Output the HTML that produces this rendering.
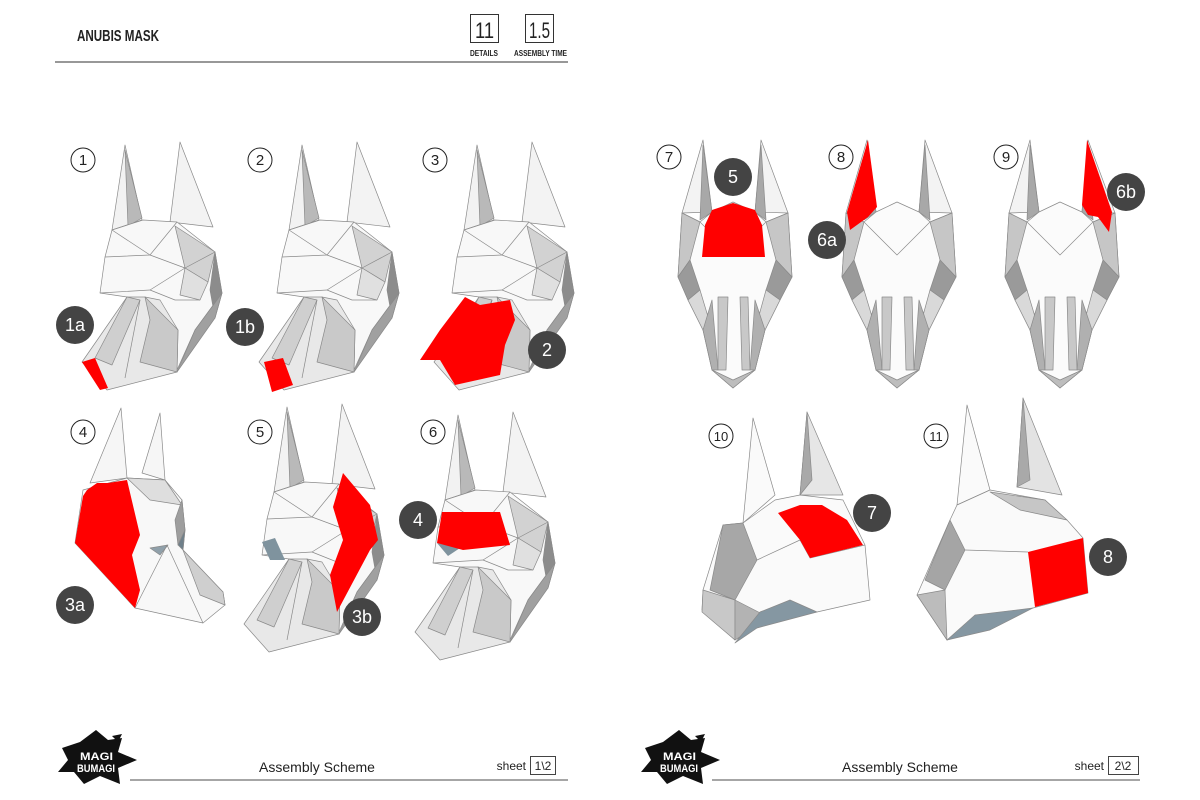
<!DOCTYPE html>
<html><head><meta charset="utf-8"><style>
html,body{margin:0;padding:0;background:#fff;width:1200px;height:800px;overflow:hidden}
svg{display:block}
.t{font-family:"Liberation Sans",sans-serif}
.n{font-family:"Liberation Sans Narrow","Liberation Sans",sans-serif}
</style></head><body>
<svg width="1200" height="800" viewBox="0 0 1200 800" xmlns="http://www.w3.org/2000/svg">
<defs>
<g id="side" stroke="#8a8a8a" stroke-width="0.7" stroke-linejoin="round">
  <polygon points="112,230 125,145 142,220" fill="#f2f2f2"/>
  <polygon points="125,150 142,218 128,226" fill="#b9b9b9"/>
  <polygon points="170,222 180,142 213,227" fill="#f3f3f3"/>
  <polygon points="100,293 105,257 112,230 143,220 177,222 215,252 222,293 217,300 195,330 177,370 140,360 127,297" fill="#f8f8f8"/>
  <polygon points="175,226 215,252 208,282 185,268" fill="#d2d2d2"/>
  <polygon points="215,252 222,293 215,318 210,290" fill="#8c8c8c"/>
  <polygon points="185,268 208,282 200,300 180,295" fill="#e0e0e0"/>
  <polyline points="105,257 150,255 177,222 M150,255 143,220" fill="none"/>
  <polyline points="112,230 150,255 185,268 215,252" fill="none"/>
  <polyline points="100,293 150,290 185,268 M150,255 150,290 120,258" fill="none"/>
  <polyline points="150,290 175,300 200,300" fill="none"/>
  <polygon points="127,297 145,297 160,300 178,330 177,372 107,390 82,362" fill="#e8e8e8"/>
  <polygon points="145,297 178,330 177,372 140,362 150,320" fill="#c9c9c9"/>
  <polygon points="127,297 140,300 112,365 95,358" fill="#cfcfcf"/>
  <polyline points="140,300 125,378 M150,320 140,362 107,390" fill="none"/>
  <polygon points="195,330 217,300 222,293 215,318 177,372" fill="#a0a0a0"/>
</g>
<g id="front" stroke="#8a8a8a" stroke-width="0.7" stroke-linejoin="round">
  <polygon points="682,213 703,140 712,212" fill="#f3f3f3"/>
  <polygon points="703,145 712,212 700,220" fill="#a8a8a8"/>
  <polygon points="788,213 761,140 755,212" fill="#f3f3f3"/>
  <polygon points="761,145 755,212 766,220" fill="#a8a8a8"/>
  <polygon points="682,213 700,222 712,212 733,202 755,212 766,222 788,213 792,277 780,300 765,330 755,370 733,388 712,370 703,330 688,300 678,277" fill="#fbfbfb"/>
  <polygon points="682,213 700,222 690,260 678,277" fill="#c6c6c6"/>
  <polygon points="788,213 766,222 776,260 792,277" fill="#c6c6c6"/>
  <polygon points="678,277 690,260 700,290 688,300" fill="#9a9a9a"/>
  <polygon points="792,277 776,260 766,290 780,300" fill="#9a9a9a"/>
  <polygon points="688,300 700,290 712,330 703,330" fill="#d9d9d9"/>
  <polygon points="780,300 766,290 755,330 765,330" fill="#d9d9d9"/>
  <polygon points="703,330 712,300 718,370 712,370" fill="#b0b0b0"/>
  <polygon points="765,330 755,300 750,370 755,370" fill="#b0b0b0"/>
  <polygon points="718,297 728,297 726,370 718,370" fill="#c8c8c8"/>
  <polygon points="748,297 740,297 742,370 750,370" fill="#c8c8c8"/>
  <polyline points="700,222 733,255 766,222 M733,202 733,255 733,295 M690,260 776,260 M700,290 733,295 766,290 M712,370 733,380 755,370" fill="none"/>
  <polygon points="712,370 733,380 755,370 733,388" fill="#bdbdbd"/>
</g>
<g id="logo">
  <polygon points="62,748 80,742 96,730 108,740 122,738 118,752 137,760 118,768 120,784 100,776 84,784 74,772 58,772 68,760" fill="#111"/>
  <polygon points="112,736 122,734 118,742" fill="#111"/>
  <text x="80" y="760" class="t" font-size="11" font-weight="bold" fill="#fff" textLength="33" lengthAdjust="spacingAndGlyphs">MAGI</text>
  <text x="77" y="772" class="t" font-size="11" font-weight="bold" fill="#fff" textLength="38" lengthAdjust="spacingAndGlyphs">BUMAGI</text>
</g>
</defs>

<!-- header -->
<text x="77" y="41" class="t" font-size="16" font-weight="bold" fill="#222" textLength="82" lengthAdjust="spacingAndGlyphs">ANUBIS MASK</text>
<rect x="470.5" y="14.5" width="28" height="28" fill="none" stroke="#333"/>
<text x="475" y="38" class="t" font-size="22" fill="#222" textLength="19" lengthAdjust="spacingAndGlyphs">11</text>
<text x="470" y="56" class="t" font-size="8" font-weight="bold" fill="#222" textLength="28" lengthAdjust="spacingAndGlyphs">DETAILS</text>
<rect x="525.5" y="14.5" width="28" height="28" fill="none" stroke="#333"/>
<text x="529" y="38" class="t" font-size="22" fill="#222" textLength="21" lengthAdjust="spacingAndGlyphs">1.5</text>
<text x="514" y="56" class="t" font-size="8" font-weight="bold" fill="#222" textLength="53" lengthAdjust="spacingAndGlyphs">ASSEMBLY TIME</text>
<line x1="55" y1="62" x2="568" y2="62" stroke="#777" stroke-width="1.5"/>

<!-- heads row 1 -->
<use href="#side"/>
<polygon points="82,362 95,358 108,388 100,390" fill="#f00"/>
<use href="#side" transform="translate(177,0)"/>
<polygon points="264,362 283,358 293,385 272,392" fill="#f00"/>
<use href="#side" transform="translate(352,0)"/>
<polygon points="440,330 465,297 480,305 510,300 515,320 505,345 500,375 455,385 440,360 420,360" fill="#f00"/>

<!-- head 4 -->
<g stroke="#8a8a8a" stroke-width="0.7" stroke-linejoin="round">
  <polygon points="90,483 121,408 127,478" fill="#f6f6f6"/>
  <polygon points="142,473 160,413 165,480" fill="#f6f6f6"/>
  <polygon points="127,478 165,480 182,500 185,530 183,550 223,592 225,605 203,623 135,608 75,543 83,490" fill="#f8f8f8"/>
  <polygon points="127,478 165,480 182,505 150,500" fill="#dedede"/>
  <polygon points="182,500 185,530 178,545 175,520" fill="#9e9e9e"/>
  <polygon points="150,548 168,545 160,555" fill="#90a0aa"/>
  <polygon points="178,545 185,530 183,550" fill="#6f808a"/>
  <polygon points="183,550 223,592 225,605 200,595" fill="#cfcfcf"/>
  <polyline points="135,608 167,545 203,623 M167,545 200,595 M140,535 175,520 185,530" fill="none"/>
</g>
<polygon points="87,490 97,483 108,483 127,480 140,535 132,555 140,590 135,608 75,543 83,496" fill="#f00"/>

<!-- head 5 -->
<use href="#side" transform="translate(162,262)"/>
<polygon points="262,542 275,538 285,560 270,560" fill="#7f939e"/>
<polygon points="343,473 370,505 378,540 370,550 337,612 330,575 343,540 333,507" fill="#f00"/>

<!-- head 6 -->
<use href="#side" transform="translate(333,270)"/>
<polygon points="437,543 460,548 448,556" fill="#7f939e"/>
<polygon points="442,512 500,512 510,545 463,550 437,543" fill="#f00"/>

<!-- front heads -->
<use href="#front"/>
<polygon points="702,257 705,225 712,210 733,203 755,210 762,225 765,257" fill="#f00"/>
<use href="#front" transform="translate(164,0)"/>
<polygon points="847,212 868,140 877,207 868,217 850,230" fill="#f00"/>
<use href="#front" transform="translate(327,0)"/>
<polygon points="1082,205 1087,140 1112,212 1109,232 1098,217 1088,215" fill="#f00"/>

<!-- head 10 -->
<g stroke="#8a8a8a" stroke-width="0.7" stroke-linejoin="round">
  <polygon points="743,523 753,418 775,495" fill="#fafafa"/>
  <polygon points="800,495 807,412 843,495" fill="#e6e6e6"/>
  <polygon points="800,495 807,412 812,480" fill="#a9a9a9"/>
  <polygon points="723,525 743,523 775,500 800,495 843,500 865,545 870,600 817,612 770,618 735,640 702,610 703,590" fill="#fafafa"/>
  <polygon points="723,525 743,523 757,560 735,600 710,590" fill="#a7a7a7"/>
  <polygon points="703,590 735,600 735,640 702,612" fill="#c8c8c8"/>
  <polygon points="735,600 770,618 735,640" fill="#b3b3b3"/>
  <polygon points="735,643 760,612 790,600 817,612 757,628" fill="#8597a2"/>
  <polyline points="757,560 800,540 810,558 865,545 M757,560 790,600 817,612 M810,558 817,612 M843,555 850,605" fill="none"/>
</g>
<polygon points="778,513 800,505 822,505 847,520 863,545 810,558 800,540" fill="#f00"/>

<!-- head 11 -->
<g stroke="#8a8a8a" stroke-width="0.7" stroke-linejoin="round">
  <polygon points="957,505 967,405 990,490" fill="#fafafa"/>
  <polygon points="1017,487 1023,398 1062,495" fill="#e3e3e3"/>
  <polygon points="1017,487 1023,398 1030,480" fill="#a9a9a9"/>
  <polygon points="950,520 957,505 990,490 1045,500 1067,520 1083,538 1088,593 1033,608 947,640 917,595" fill="#fafafa"/>
  <polygon points="990,492 1045,500 1067,520 1020,510" fill="#c6c6c6"/>
  <polygon points="950,520 965,550 945,590 925,580" fill="#a5a5a5"/>
  <polygon points="917,595 945,590 947,640" fill="#bcbcbc"/>
  <polygon points="947,640 975,615 1033,608 990,630" fill="#8597a2"/>
  <polyline points="965,550 1028,552 M990,510 1000,545 M965,550 1033,608" fill="none"/>
</g>
<polygon points="1028,552 1083,538 1088,593 1035,607" fill="#f00"/>

<!-- step numbers -->
<g fill="#fff" stroke="#222" stroke-width="1">
<circle cx="83" cy="160" r="12"/><circle cx="260" cy="160" r="12"/><circle cx="435" cy="160" r="12"/>
<circle cx="83" cy="432" r="12"/><circle cx="260" cy="432" r="12"/><circle cx="433" cy="432" r="12"/>
<circle cx="669" cy="157" r="12"/><circle cx="841" cy="157" r="12"/><circle cx="1006" cy="157" r="12"/>
<circle cx="721" cy="436" r="12"/><circle cx="936" cy="436" r="12"/>
</g>
<g class="t" font-size="15" text-anchor="middle" fill="#222">
<text x="83" y="165">1</text><text x="260" y="165">2</text><text x="435" y="165">3</text>
<text x="83" y="437">4</text><text x="260" y="437">5</text><text x="433" y="437">6</text>
<text x="669" y="162">7</text><text x="841" y="162">8</text><text x="1006" y="162">9</text>
<text x="721" y="441" font-size="13">10</text><text x="936" y="441" font-size="13">11</text>
</g>

<!-- badges -->
<g fill="#444">
<circle cx="75" cy="325" r="19"/><circle cx="245" cy="327" r="19"/><circle cx="547" cy="350" r="19"/>
<circle cx="75" cy="605" r="19"/><circle cx="362" cy="617" r="19"/><circle cx="418" cy="520" r="19"/>
<circle cx="733" cy="177" r="19"/><circle cx="827" cy="240" r="19"/><circle cx="1126" cy="192" r="19"/>
<circle cx="872" cy="513" r="19"/><circle cx="1108" cy="557" r="19"/>
</g>
<g class="t" font-size="18" text-anchor="middle" fill="#fff">
<text x="75" y="331">1a</text><text x="245" y="333">1b</text><text x="547" y="356">2</text>
<text x="75" y="611">3a</text><text x="362" y="623">3b</text><text x="418" y="526">4</text>
<text x="733" y="183">5</text><text x="827" y="246">6a</text><text x="1126" y="198">6b</text>
<text x="872" y="519">7</text><text x="1108" y="563">8</text>
</g>

<!-- footers -->
<use href="#logo"/>
<text x="317" y="772" text-anchor="middle" class="t" font-size="14" fill="#222">Assembly Scheme</text>
<line x1="130" y1="780" x2="568" y2="780" stroke="#888" stroke-width="1.5"/>
<text x="526" y="770" text-anchor="end" class="t" font-size="12" fill="#222">sheet</text>
<rect x="530.5" y="756.5" width="25" height="18" fill="none" stroke="#444"/>
<text x="543" y="770" text-anchor="middle" class="t" font-size="12" fill="#222">1\2</text>

<use href="#logo" transform="translate(583,0)"/>
<text x="900" y="772" text-anchor="middle" class="t" font-size="14" fill="#222">Assembly Scheme</text>
<line x1="712" y1="780" x2="1140" y2="780" stroke="#888" stroke-width="1.5"/>
<text x="1104" y="770" text-anchor="end" class="t" font-size="12" fill="#222">sheet</text>
<rect x="1108.5" y="756.5" width="30" height="18" fill="none" stroke="#444"/>
<text x="1123" y="770" text-anchor="middle" class="t" font-size="12" fill="#222">2\2</text>
</svg>
</body></html>
